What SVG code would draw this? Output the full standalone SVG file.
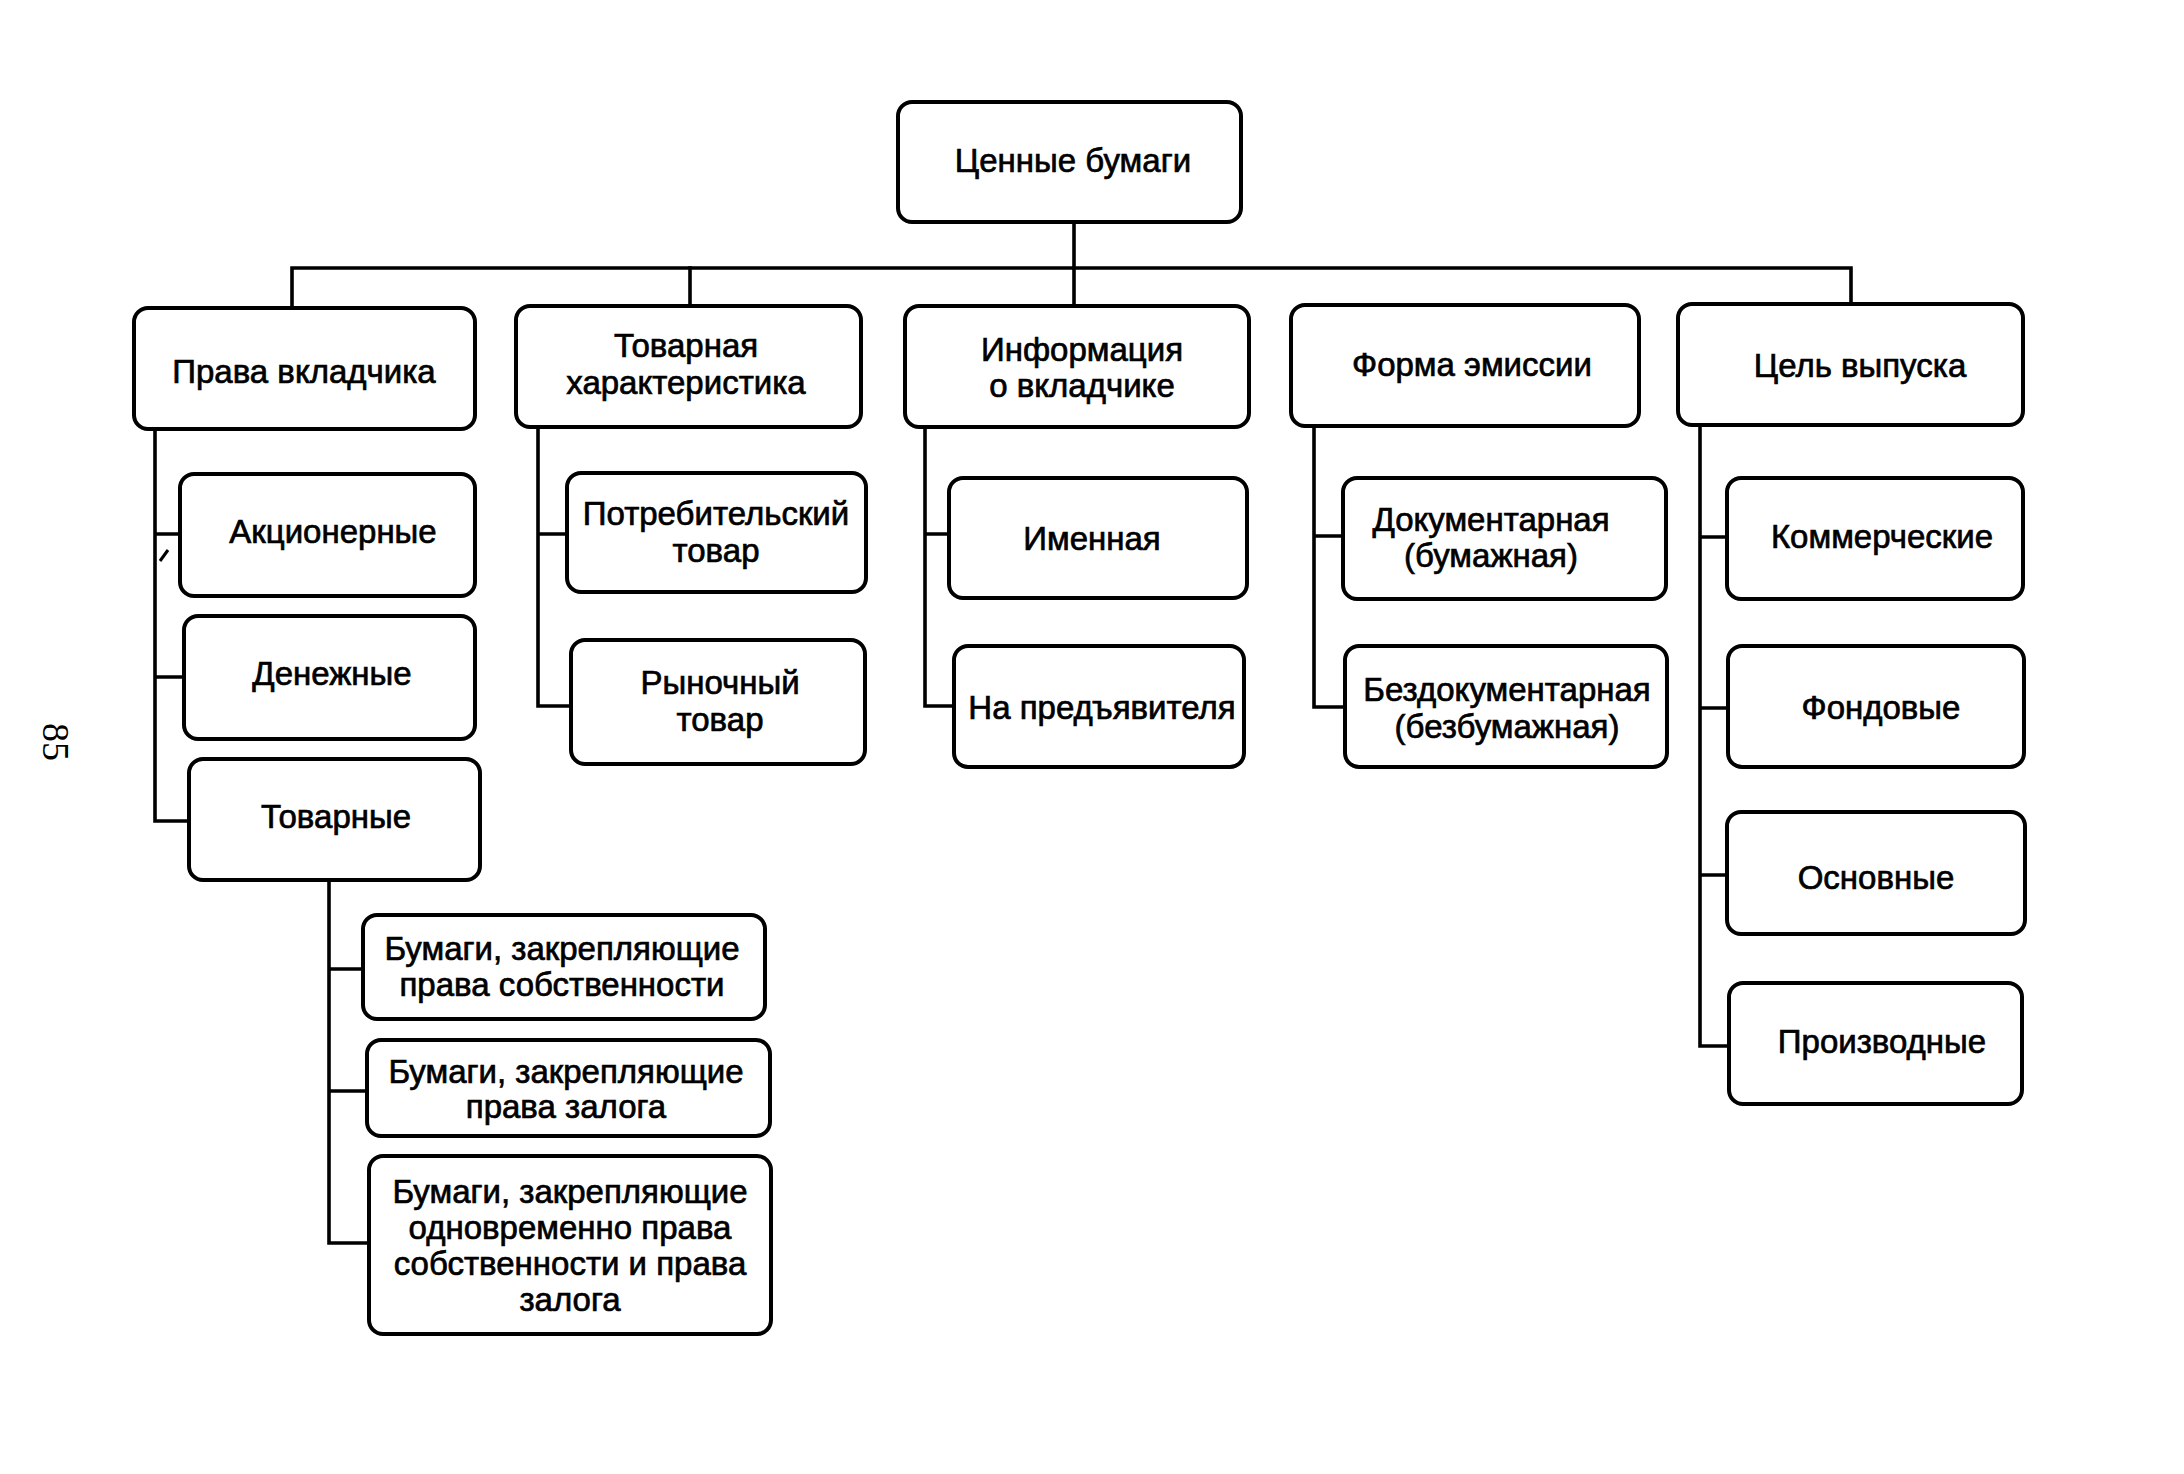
<svg xmlns="http://www.w3.org/2000/svg" width="2184" height="1474" viewBox="0 0 2184 1474">
<style>
.box{fill:#fff;stroke:#000;stroke-width:4}
.ln{fill:none;stroke:#000;stroke-width:3.6;stroke-linejoin:miter;stroke-linecap:square}
.t{font-family:"Liberation Sans",Arial,sans-serif;font-size:33px;fill:#000;stroke:#000;stroke-width:0.7;text-anchor:middle}
.pg{font-family:"Liberation Serif","Times New Roman",serif;font-size:38px;fill:#000;text-anchor:middle}
</style>
<rect width="2184" height="1474" fill="#fff"/>
<g id="connectors">
<path class="ln" d="M1074 222 V306"/>
<path class="ln" d="M292 308 V268 H1851 V304"/>
<path class="ln" d="M690 268 V306"/>
<path class="ln" d="M155 429 V821 H189 M155 534 H180 M155 677 H184"/>
<path class="ln" d="M329 880 V1243 H369 M329 969 H363 M329 1091 H367"/>
<path class="ln" d="M538 427 V706 H571 M538 534 H567"/>
<path class="ln" d="M925 427 V706 H954 M925 534 H949"/>
<path class="ln" d="M1314 426 V707 H1345 M1314 536 H1343"/>
<path class="ln" d="M1700 425 V1046 H1729 M1700 537 H1727 M1700 708 H1728 M1700 875 H1727"/>
<path d="M160 561 L168 550" stroke="#000" stroke-width="3" fill="none"/>
</g>
<g id="root"><rect class="box" x="898" y="102" width="343" height="120" rx="14"/><text class="t" x="1073" y="172">Ценные бумаги</text></g>
<g id="prava"><rect class="box" x="134" y="308" width="341" height="121" rx="14"/><text class="t" x="304" y="383">Права вкладчика</text></g>
<g id="tovarnaya"><rect class="box" x="516" y="306" width="345" height="121" rx="14"/><text class="t" x="686" y="357">Товарная</text><text class="t" x="686" y="394">характеристика</text></g>
<g id="informaciya"><rect class="box" x="905" y="306" width="344" height="121" rx="14"/><text class="t" x="1082" y="361">Информация</text><text class="t" x="1082" y="397">о вкладчике</text></g>
<g id="forma"><rect class="box" x="1291" y="305" width="348" height="121" rx="14"/><text class="t" x="1472" y="376">Форма эмиссии</text></g>
<g id="cel"><rect class="box" x="1678" y="304" width="345" height="121" rx="14"/><text class="t" x="1860" y="377">Цель выпуска</text></g>
<g id="akcionernye"><rect class="box" x="180" y="474" width="295" height="122" rx="14"/><text class="t" x="333" y="543">Акционерные</text></g>
<g id="denezhnye"><rect class="box" x="184" y="616" width="291" height="123" rx="14"/><text class="t" x="332" y="685">Денежные</text></g>
<g id="tovarnye"><rect class="box" x="189" y="759" width="291" height="121" rx="14"/><text class="t" x="336" y="828">Товарные</text></g>
<g id="bumagi1"><rect class="box" x="363" y="915" width="402" height="104" rx="14"/><text class="t" x="562" y="960">Бумаги, закрепляющие</text><text class="t" x="562" y="996">права собственности</text></g>
<g id="bumagi2"><rect class="box" x="367" y="1040" width="403" height="96" rx="14"/><text class="t" x="566" y="1083">Бумаги, закрепляющие</text><text class="t" x="566" y="1118">права залога</text></g>
<g id="bumagi3"><rect class="box" x="369" y="1156" width="402" height="178" rx="14"/><text class="t" x="570" y="1203">Бумаги, закрепляющие</text><text class="t" x="570" y="1239">одновременно права</text><text class="t" x="570" y="1275">собственности и права</text><text class="t" x="570" y="1311">залога</text></g>
<g id="potrebitelskiy"><rect class="box" x="567" y="473" width="299" height="119" rx="14"/><text class="t" x="716" y="525">Потребительский</text><text class="t" x="716" y="562">товар</text></g>
<g id="rynochnyy"><rect class="box" x="571" y="640" width="294" height="124" rx="14"/><text class="t" x="720" y="694">Рыночный</text><text class="t" x="720" y="731">товар</text></g>
<g id="imennaya"><rect class="box" x="949" y="478" width="298" height="120" rx="14"/><text class="t" x="1092" y="550">Именная</text></g>
<g id="na-predyavitelya"><rect class="box" x="954" y="646" width="290" height="121" rx="14"/><text class="t" x="1102" y="719">На предъявителя</text></g>
<g id="dokumentarnaya"><rect class="box" x="1343" y="478" width="323" height="121" rx="14"/><text class="t" x="1491" y="531">Документарная</text><text class="t" x="1491" y="567">(бумажная)</text></g>
<g id="bezdokumentarnaya"><rect class="box" x="1345" y="646" width="322" height="121" rx="14"/><text class="t" x="1507" y="701">Бездокументарная</text><text class="t" x="1507" y="738">(безбумажная)</text></g>
<g id="kommercheskie"><rect class="box" x="1727" y="478" width="296" height="121" rx="14"/><text class="t" x="1882" y="548">Коммерческие</text></g>
<g id="fondovye"><rect class="box" x="1728" y="646" width="296" height="121" rx="14"/><text class="t" x="1881" y="719">Фондовые</text></g>
<g id="osnovnye"><rect class="box" x="1727" y="812" width="298" height="122" rx="14"/><text class="t" x="1876" y="889">Основные</text></g>
<g id="proizvodnye"><rect class="box" x="1729" y="983" width="293" height="121" rx="14"/><text class="t" x="1882" y="1053">Производные</text></g>
<text class="pg" transform="translate(43 742) rotate(90)">85</text>
</svg>
